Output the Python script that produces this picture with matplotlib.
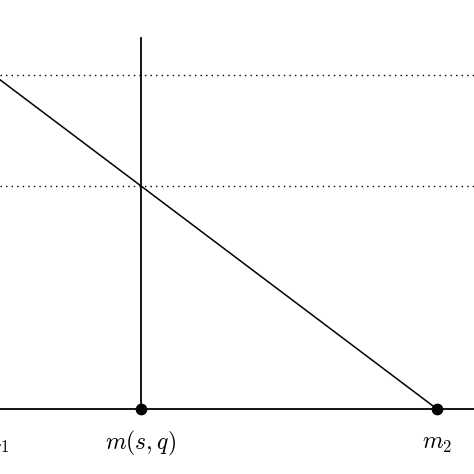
import matplotlib
matplotlib.use("Agg")
import matplotlib.pyplot as plt

plt.rcParams['mathtext.fontset'] = 'cm'

# diagram coordinates (pixel-like units, y downward)
axis_y = [409, 409]
axis_x = [0, 474]
vert_x = [141, 141]
vert_y = [38, 409]
diag_x = [-5, 437]
diag_y = [76, 409]
dotted_levels = [75, 186]
point_x = [141, 437]
point_y = [409, 409]
labels = [r'$m_1$', r'$m(s,q)$', r'$m_2$']
label_x = [-5, 141, 437]

fig = plt.figure(figsize=(4.74, 4.74), dpi=100)
ax = fig.add_axes([0, 0, 1, 1])
ax.set_xlim(0, 474)
ax.set_ylim(474, 0)
ax.axis('off')

ax.plot(axis_x, axis_y, color='black', lw=1.3)
ax.plot(vert_x, vert_y, color='black', lw=1.3)
ax.plot(diag_x, diag_y, color='black', lw=1.1)
for y in dotted_levels:
    ax.plot([0, 474], [y, y], color='black', lw=1.0, linestyle=(0, (1, 3)))
ax.scatter(point_x, point_y, s=55, color='black', zorder=5)
for lx, lab in zip(label_x, labels):
    ax.text(lx, 443, lab, ha='center', va='center', fontsize=17)

fig.savefig('out.png', dpi=100)
